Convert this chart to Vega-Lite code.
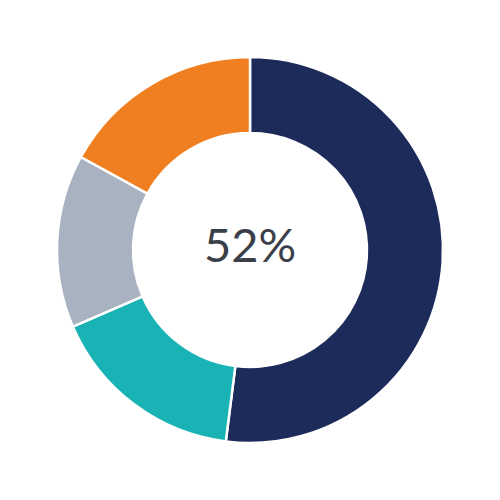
{
  "$schema": "https://vega.github.io/schema/vega-lite/v6.json",
  "autosize": {"type": "fit", "contains": "padding"},
  "width": 500,
  "height": 500,
  "padding": 0,
  "background": "white",
  "view": {"stroke": null},
  "layer": [
    {
      "data": {
        "values": [
          {"segment": "A", "idx": 1, "value": 52},
          {"segment": "B", "idx": 2, "value": 16.5},
          {"segment": "C", "idx": 3, "value": 14.5},
          {"segment": "D", "idx": 4, "value": 17}
        ]
      },
      "mark": {"type": "arc", "innerRadius": 117, "outerRadius": 193, "stroke": "white", "strokeWidth": 2.5},
      "encoding": {
        "theta": {"field": "value", "type": "quantitative", "stack": true},
        "order": {"field": "idx", "type": "quantitative"},
        "color": {
          "field": "segment",
          "type": "nominal",
          "scale": {"domain": ["A", "B", "C", "D"], "range": ["#1d2b5a", "#1ab3b5", "#a8b2c1", "#f07f21"]},
          "legend": null
        }
      }
    },
    {
      "data": {"values": [{"label": "52%"}]},
      "mark": {"type": "text", "font": "Lato", "fontWeight": 400, "fontSize": 47, "color": "#3b3f4a", "baseline": "middle", "align": "center", "dy": -2},
      "encoding": {
        "text": {"field": "label"}
      }
    }
  ]
}
